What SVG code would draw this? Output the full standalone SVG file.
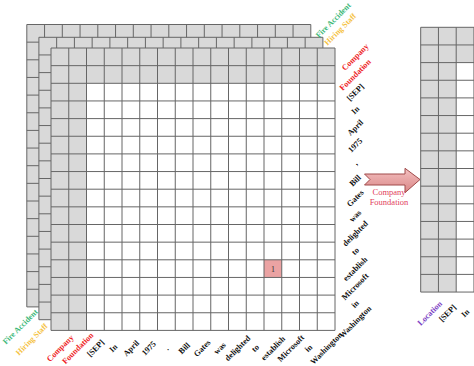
<svg xmlns="http://www.w3.org/2000/svg" xmlns:xlink="http://www.w3.org/1999/xlink" width="474" height="366" viewBox="0 0 474 366">
<style>
.grid{fill:none;stroke:#666;stroke-width:1}
.gray{fill:#d9d9d9}
.lb{font-family:"Liberation Serif","Times New Roman",serif;font-size:8.2px;font-weight:bold;text-anchor:middle;fill:#111}
.sm{font-size:8px}
.red{fill:#ee1c24}
.green{fill:#3cb878}
.gold{fill:#f5c242}
.purple{fill:#7b3fc4}
.al{font-family:"Liberation Serif","Times New Roman",serif;font-size:8.5px;text-anchor:middle;fill:#e2415c}
</style>
<defs>
<path id="g16" d="M0 0V282.4M17.75 0V282.4M35.5 0V282.4M53.25 0V282.4M71 0V282.4M88.75 0V282.4M106.5 0V282.4M124.25 0V282.4M142 0V282.4M159.75 0V282.4M177.5 0V282.4M195.25 0V282.4M213 0V282.4M230.75 0V282.4M248.5 0V282.4M266.25 0V282.4M284 0V282.4M0 0H284M0 17.65H284M0 35.3H284M0 52.95H284M0 70.6H284M0 88.25H284M0 105.9H284M0 123.55H284M0 141.2H284M0 158.85H284M0 176.5H284M0 194.15H284M0 211.8H284M0 229.45H284M0 247.1H284M0 264.75H284M0 282.4H284"/>
<linearGradient id="ag" x1="0" y1="0" x2="0" y2="1">
<stop offset="0" stop-color="#f4c0c0"/>
<stop offset="1" stop-color="#d98686"/>
</linearGradient>
</defs>
<rect width="474" height="366" fill="#fff"/>

<g id="layer-fire-accident" transform="translate(26.8 24.5)">
<rect class="gray" width="284" height="282.4"/>
<use xlink:href="#g16" class="grid"/>
</g>
<g id="layer-hiring-staff" transform="translate(38.9 37.3)">
<rect class="gray" width="284" height="282.4"/>
<use xlink:href="#g16" class="grid"/>
</g>
<g id="layer-company-foundation" transform="translate(51 48)">
<rect fill="#fff" width="284" height="282.4"/>
<rect class="gray" width="284" height="35.3"/>
<rect class="gray" width="35.5" height="282.4"/>
<rect x="213" y="211.8" width="17.75" height="17.65" fill="#eba3a3"/>
<use xlink:href="#g16" class="grid"/>
<text x="221.9" y="223.6" font-family="Liberation Serif, serif" font-size="8" text-anchor="middle" fill="#333">1</text>
</g>

<g id="layer-labels">
<text class="lb sm green" x="333" y="23" transform="rotate(-45 333 20)">Fire Accident</text>
<text class="lb sm gold" x="340" y="32" transform="rotate(-45 340 29)">Hiring Staff</text>
<text class="lb sm green" x="20" y="329.5" transform="rotate(-45 20 326.5)">Fire Accident</text>
<text class="lb sm gold" x="31.5" y="342" transform="rotate(-45 31.5 339)">Hiring Staff</text>
</g>

<g id="row-labels">
<text class="lb red" x="355" y="59.8" transform="rotate(-45 355 56.8)">Company</text>
<text class="lb red" x="355" y="77.5" transform="rotate(-45 355 74.5)">Foundation</text>
<text class="lb" x="355" y="95.1" transform="rotate(-45 355 92.1)">[SEP]</text>
<text class="lb" x="355" y="112.8" transform="rotate(-45 355 109.8)">In</text>
<text class="lb" x="355" y="130.4" transform="rotate(-45 355 127.4)">April</text>
<text class="lb" x="355" y="148.1" transform="rotate(-45 355 145.1)">1975</text>
<text class="lb" x="355" y="165.7" transform="rotate(-45 355 162.7)">,</text>
<text class="lb" x="355" y="183.4" transform="rotate(-45 355 180.4)">Bill</text>
<text class="lb" x="355" y="201" transform="rotate(-45 355 198)">Gates</text>
<text class="lb" x="355" y="218.7" transform="rotate(-45 355 215.7)">was</text>
<text class="lb" x="355" y="236.3" transform="rotate(-45 355 233.3)">delighted</text>
<text class="lb" x="355" y="254" transform="rotate(-45 355 251)">to</text>
<text class="lb" x="355" y="271.6" transform="rotate(-45 355 268.6)">establish</text>
<text class="lb" x="355" y="289.3" transform="rotate(-45 355 286.3)">Microsoft</text>
<text class="lb" x="355" y="306.9" transform="rotate(-45 355 303.9)">in</text>
<text class="lb" x="355" y="324.6" transform="rotate(-45 355 321.6)">Washington</text>
</g>

<g id="column-labels">
<text class="lb red" x="59.9" y="351" transform="rotate(-45 59.9 348)">Company</text>
<text class="lb red" x="77.6" y="351" transform="rotate(-45 77.6 348)">Foundation</text>
<text class="lb" x="95.4" y="351" transform="rotate(-45 95.4 348)">[SEP]</text>
<text class="lb" x="113.1" y="351" transform="rotate(-45 113.1 348)">In</text>
<text class="lb" x="130.9" y="351" transform="rotate(-45 130.9 348)">April</text>
<text class="lb" x="148.6" y="351" transform="rotate(-45 148.6 348)">1975</text>
<text class="lb" x="166.4" y="351" transform="rotate(-45 166.4 348)">.</text>
<text class="lb" x="184.1" y="351" transform="rotate(-45 184.1 348)">Bill</text>
<text class="lb" x="201.9" y="351" transform="rotate(-45 201.9 348)">Gates</text>
<text class="lb" x="219.6" y="351" transform="rotate(-45 219.6 348)">was</text>
<text class="lb" x="237.4" y="351" transform="rotate(-45 237.4 348)">delighted</text>
<text class="lb" x="255.1" y="351" transform="rotate(-45 255.1 348)">to</text>
<text class="lb" x="272.9" y="351" transform="rotate(-45 272.9 348)">establish</text>
<text class="lb" x="290.6" y="351" transform="rotate(-45 290.6 348)">Microsoft</text>
<text class="lb" x="308.4" y="351" transform="rotate(-45 308.4 348)">in</text>
<text class="lb" x="326.1" y="351" transform="rotate(-45 326.1 348)">Washington</text>
</g>

<g id="connectors">
<path d="M364.5 174H405V168.3L420 179.5L405 192.7V185H364.5L370 179.5Z" fill="url(#ag)" stroke="#a04a4a" stroke-width="1"/>
<text class="al" x="389" y="195">Company</text>
<text class="al" x="389" y="205">Foundation</text>
</g>

<g id="matrix-location" transform="translate(420.7 27.3)">
<rect fill="#fff" width="71" height="264.75"/>
<rect class="gray" width="71" height="35.3"/>
<rect class="gray" width="35.5" height="264.75"/>
<path class="grid" d="M0 0V264.75M17.75 0V264.75M35.5 0V264.75M53.25 0V264.75M71 0V264.75M0 0H71M0 17.65H71M0 35.3H71M0 52.95H71M0 70.6H71M0 88.25H71M0 105.9H71M0 123.55H71M0 141.2H71M0 158.85H71M0 176.5H71M0 194.15H71M0 211.8H71M0 229.45H71M0 247.1H71M0 264.75H71"/>
</g>
<g id="location-labels">
<text class="lb purple" x="429.6" y="316" transform="rotate(-45 429.6 313)">Location</text>
<text class="lb" x="447.3" y="316" transform="rotate(-45 447.3 313)">[SEP]</text>
<text class="lb" x="465.1" y="316" transform="rotate(-45 465.1 313)">In</text>
</g>
</svg>
